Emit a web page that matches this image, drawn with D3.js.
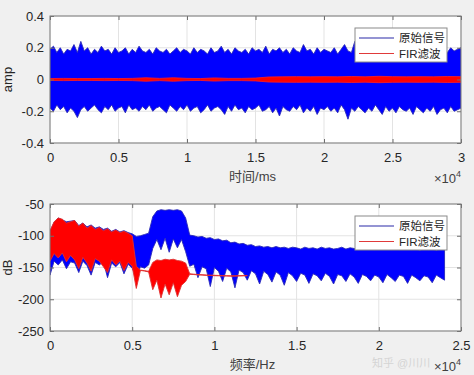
<!DOCTYPE html>
<html><head><meta charset="utf-8">
<script src="https://cdn.jsdelivr.net/npm/d3@7"></script>
<style>
body{margin:0;background:#f0f0f0;}
text{font-family:"Liberation Sans",Arial,"Noto Sans CJK SC",sans-serif;}
</style></head><body>
<svg id="fig" width="474" height="375"></svg>
<script>
// ---- time domain (ms), envelope of the raw signal and of the FIR output
var timeMs = d3.range(0, 30001, 250);
var rawUpper = [
  0.19,0.21,0.17,0.2,0.16,0.19,0.18,0.22,0.17,0.24,
  0.18,0.2,0.16,0.19,0.17,0.21,0.18,0.19,0.16,0.2,
  0.17,0.18,0.2,0.16,0.19,0.17,0.21,0.18,0.17,0.19,
  0.16,0.2,0.18,0.17,0.19,0.16,0.18,0.2,0.17,0.19,
  0.18,0.16,0.2,0.17,0.19,0.18,0.16,0.2,0.17,0.18,
  0.21,0.17,0.19,0.16,0.2,0.18,0.17,0.19,0.16,0.2,
  0.18,0.19,0.17,0.21,0.16,0.19,0.18,0.2,0.17,0.19,
  0.16,0.2,0.18,0.17,0.22,0.18,0.19,0.16,0.2,0.17,
  0.19,0.18,0.17,0.2,0.16,0.19,0.22,0.18,0.17,0.24,
  0.18,0.2,0.17,0.19,0.21,0.18,0.2,0.17,0.19,0.18,
  0.2,0.17,0.19,0.21,0.18,0.2,0.17,0.19,0.22,0.18,
  0.19,0.17,0.2,0.18,0.21,0.19,0.17,0.2,0.18,0.19,
  0.2];
var rawLower = [
  -0.18,-0.2,-0.16,-0.19,-0.17,-0.21,-0.18,-0.2,-0.24,-0.19,
  -0.17,-0.2,-0.18,-0.16,-0.19,-0.21,-0.17,-0.19,-0.16,-0.2,
  -0.18,-0.17,-0.21,-0.16,-0.19,-0.18,-0.2,-0.17,-0.19,-0.16,
  -0.2,-0.18,-0.17,-0.19,-0.21,-0.16,-0.18,-0.2,-0.17,-0.19,
  -0.16,-0.2,-0.18,-0.17,-0.21,-0.19,-0.16,-0.2,-0.18,-0.17,
  -0.19,-0.22,-0.17,-0.2,-0.16,-0.19,-0.18,-0.21,-0.17,-0.19,
  -0.18,-0.16,-0.2,-0.19,-0.17,-0.21,-0.18,-0.23,-0.17,-0.19,
  -0.2,-0.17,-0.19,-0.16,-0.21,-0.18,-0.2,-0.17,-0.22,-0.18,
  -0.19,-0.17,-0.2,-0.18,-0.21,-0.16,-0.19,-0.25,-0.18,-0.2,
  -0.17,-0.19,-0.21,-0.18,-0.2,-0.16,-0.19,-0.22,-0.17,-0.2,
  -0.18,-0.21,-0.17,-0.19,-0.2,-0.18,-0.22,-0.17,-0.19,-0.21,
  -0.18,-0.2,-0.17,-0.22,-0.19,-0.18,-0.21,-0.17,-0.2,-0.19,
  -0.18];
var firTimeMs = d3.range(0, 30001, 1000);
var firUpper = [0.006,0.007,0.006,0.006,0.007,0.006,0.007,0.011,0.007,0.011,0.007,0.006,0.01,0.007,0.007,0.009,
  0.016,0.017,0.018,0.017,0.018,0.017,0.019,0.017,0.02,0.018,0.017,0.018,0.017,0.019,0.018];
var firLower = [-0.006,-0.007,-0.006,-0.006,-0.007,-0.006,-0.007,-0.011,-0.007,-0.011,-0.007,-0.006,-0.01,-0.007,-0.007,-0.009,
  -0.016,-0.017,-0.018,-0.017,-0.018,-0.017,-0.019,-0.017,-0.02,-0.018,-0.017,-0.018,-0.017,-0.019,-0.018];

// ---- spectrum (Hz -> dB)
var freqHz = d3.range(0, 24001, 250);
var specUpper = [
  -93,-79,-72,-75,-78,-77,-76,-84,-80,-86,-83,-88,-86,-90,-88,-93,-90,-94,-92,-95,-97,-101,-100,-98,-96,
  -70,-61,-59,-60,-59,-60,-59,-61,-72,-99,-100,-102,-101,-104,-103,-106,-105,-108,-107,-111,-110,-113,-112,
  -115,-114,-117,-116,-118,-117,-119,-117,-119,-118,-120,-118,-119,-121,-118,-120,-119,-121,-118,-120,
  -119,-121,-120,-118,-121,-119,-120,-122,-119,-121,-120,-122,-120,-121,-119,-122,-120,-122,-121,-120,
  -122,-121,-123,-120,-122,-121,-123,-121,-122];
var specLower = [
  -162,-140,-146,-138,-152,-141,-143,-158,-140,-147,-162,-142,-146,-141,-166,-143,-149,-142,-160,-145,-151,-166,-149,-151,-146,
  -120,-106,-122,-104,-126,-105,-119,-106,-125,-148,-145,-166,-149,-152,-180,-150,-156,-172,-151,-157,-182,-154,-158,
  -170,-155,-160,-176,-156,-161,-173,-157,-162,-178,-158,-163,-172,-159,-162,-175,-160,-163,-171,-159,
  -164,-176,-161,-163,-172,-160,-165,-175,-161,-164,-171,-162,-165,-174,-161,-166,-172,-162,-164,-175,
  -162,-166,-171,-163,-165,-174,-162,-166,-170];
var firFreqHz = d3.range(0, 12001, 250);
var firSpecUpper = [
  -92,-78,-72,-74,-80,-78,-76,-85,-80,-88,-84,-90,-87,-92,-89,-94,-91,-95,-93,-96,-100,
  -148,-154,-155,-156,-142,-138,-139,-137,-138,-137,-139,-140,-143,
  -160,-160.5,-161,-161.4,-161.8,-162,-162.3,-162.5,-162.7,-162.9,-163,-163,-162.8,-162.6,-162.5];
var firSpecLower = [
  -140,-128,-135,-127,-141,-131,-138,-152,-134,-143,-156,-136,-140,-149,-158,-138,-146,-140,-155,-142,-148,
  -183,-154.6,-155.6,-157,-185,-170,-198,-176,-193,-174,-196,-178,-172,
  -160.6,-161.1,-161.6,-162,-162.4,-162.6,-162.9,-163.1,-163.3,-163.5,-163.6,-163.6,-163.4,-163.2,-163.1];

var timeTicks = [0,5000,10000,15000,20000,25000,30000],
    timeTickLabels = ["0","0.5","1","1.5","2","2.5","3"],
    ampTicks = [-0.4,-0.2,0,0.2,0.4],
    ampTickLabels = ["-0.4","-0.2","0","0.2","0.4"],
    freqTicks = [0,5000,10000,15000,20000,25000],
    freqTickLabels = ["0","0.5","1","1.5","2","2.5"],
    dbTicks = [-250,-200,-150,-100,-50],
    dbTickLabels = ["-250","-200","-150","-100","-50"],
    legendNames = ["原始信号","FIR滤波"];

var svg = d3.select("#fig"),
    W = 411, H = 127, left = 50;

svg.append("rect").attr("width",474).attr("height",375).attr("fill","#f0f0f0");

function panel(top, xDom, yDom, xTicks, yTicks, id) {
  var x = d3.scaleLinear().domain(xDom).range([0, W]),
      y = d3.scaleLinear().domain(yDom).range([H, 0]);
  var g = svg.append("g").attr("transform", "translate(" + left + "," + top + ")");
  g.append("rect").attr("width", W).attr("height", H).attr("fill", "#fff");
  g.append("g").selectAll("line").data(xTicks).enter().append("line")
    .attr("x1", x).attr("x2", x).attr("y1", 0).attr("y2", H)
    .attr("stroke", "#e3e3e3");
  g.append("g").selectAll("line").data(yTicks).enter().append("line")
    .attr("y1", y).attr("y2", y).attr("x1", 0).attr("x2", W)
    .attr("stroke", "#e3e3e3");
  g.append("clipPath").attr("id", id).append("rect").attr("width", W).attr("height", H);
  var plot = g.append("g").attr("clip-path", "url(#" + id + ")");
  return {g: g, x: x, y: y, plot: plot};
}

function band(p, xs, hi, lo, fill, edge, edgeW) {
  var idx = d3.range(xs.length);
  p.plot.append("path").datum(idx)
    .attr("fill", fill)
    .attr("stroke", edge).attr("stroke-width", edgeW)
    .attr("d", d3.area()
      .x(function(i) { return p.x(xs[i]); })
      .y0(function(i) { return p.y(lo[i]); })
      .y1(function(i) { return p.y(hi[i]); }));
}

function frame(p, xTicks, yTicks, xLabels, yLabels) {
  var g = p.g;
  var inner = [
    g.append("g").attr("transform", "translate(0," + H + ")").call(d3.axisTop(p.x).tickValues(xTicks).tickSize(4).tickFormat("")),
    g.append("g").call(d3.axisBottom(p.x).tickValues(xTicks).tickSize(4).tickFormat("")),
    g.append("g").call(d3.axisRight(p.y).tickValues(yTicks).tickSize(4).tickFormat("")),
    g.append("g").attr("transform", "translate(" + W + ",0)").call(d3.axisLeft(p.y).tickValues(yTicks).tickSize(4).tickFormat(""))
  ];
  inner.forEach(function(a) {
    a.select(".domain").remove();
    a.selectAll("line").attr("stroke", "#6e6e6e");
  });
  g.append("rect").attr("width", W).attr("height", H)
    .attr("fill", "none").attr("stroke", "#7a7a7a").attr("stroke-width", 1);

  var xa = g.append("g").attr("transform", "translate(0," + H + ")")
    .call(d3.axisBottom(p.x).tickValues(xTicks).tickSize(0).tickPadding(10)
      .tickFormat(function(d, i) { return xLabels[i]; }));
  var ya = g.append("g")
    .call(d3.axisLeft(p.y).tickValues(yTicks).tickSize(0).tickPadding(6)
      .tickFormat(function(d, i) { return yLabels[i]; }));
  [xa, ya].forEach(function(a) {
    a.select(".domain").remove();
    a.attr("font-size", null).attr("font-family", null);
    a.selectAll("text").attr("font-size", 13).attr("fill", "#262626");
  });
}

function legend(p) {
  var lg = p.g.append("g").attr("transform", "translate(" + (W - 106) + ",12)");
  lg.append("rect").attr("width", 92).attr("height", 34)
    .attr("fill", "#fff").attr("stroke", "#8a8a8a");
  var cols = ["#2a2aa8", "#e03a3a"];
  legendNames.forEach(function(n, i) {
    var yy = 10 + i * 15.5;
    lg.append("line").attr("x1", 4).attr("x2", 39).attr("y1", yy).attr("y2", yy)
      .attr("stroke", cols[i]).attr("stroke-width", 1.2);
    lg.append("text").attr("x", 44).attr("y", yy + 4).attr("font-size", 11.5)
      .attr("fill", "#262626").text(n);
  });
}

function labels(p, xl, yl) {
  p.g.append("text").attr("x", W / 2 - 3).attr("y", H + 38).attr("text-anchor", "middle")
    .attr("font-size", 13).attr("fill", "#404040").text(xl);
  p.g.append("text").attr("transform", "translate(-38," + (H / 2) + ") rotate(-90)")
    .attr("text-anchor", "middle").attr("font-size", 13).attr("fill", "#262626").text(yl);
  var e = p.g.append("text").attr("x", W).attr("y", H + 40).attr("text-anchor", "end")
    .attr("font-size", 13).attr("fill", "#404040");
  e.append("tspan").text("×10");
  e.append("tspan").attr("dy", -6).attr("font-size", 9).text("4");
}

// ---- top: time signal
var p1 = panel(16, [0, 30000], [-0.4, 0.4], timeTicks, ampTicks, "c1");
band(p1, timeMs, rawUpper, rawLower, "#0000ff", "#2a2ab8", 0.9);
band(p1, firTimeMs, firUpper, firLower, "#ff0000", "#ff2020", 0.8);
frame(p1, timeTicks, ampTicks, timeTickLabels, ampTickLabels);
legend(p1);
labels(p1, "时间/ms", "amp");

// ---- bottom: spectrum
var p2 = panel(204, [0, 25000], [-250, -50], freqTicks, dbTicks, "c2");
band(p2, freqHz, specUpper, specLower, "#0000ff", "#2a2ab8", 0.9);
band(p2, firFreqHz, firSpecUpper, firSpecLower, "#ff0000", "#e03030", 0.9);
frame(p2, freqTicks, dbTicks, freqTickLabels, dbTickLabels);
legend(p2);
labels(p2, "频率/Hz", "dB");

svg.append("text").attr("x", 372).attr("y", 367).attr("font-size", 11)
  .attr("fill", "#d4d4d4").text("知乎 @川川");
</script></body></html>
